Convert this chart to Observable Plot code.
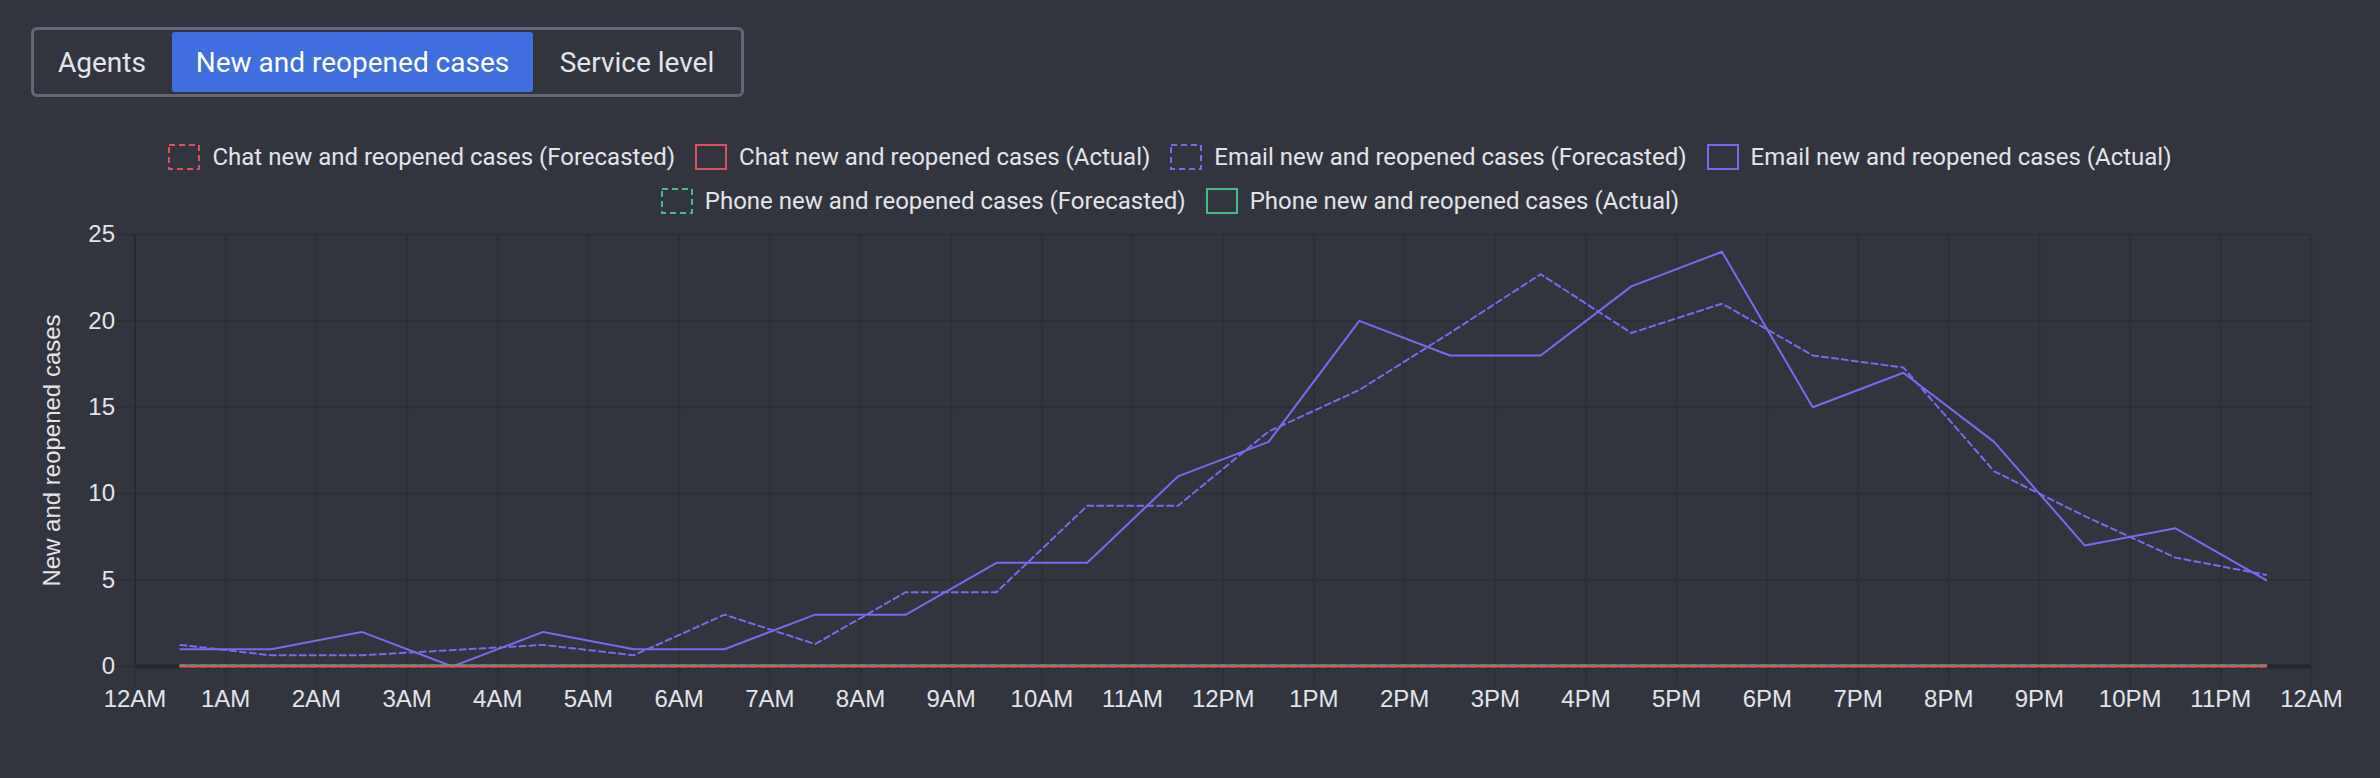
<!DOCTYPE html>
<html>
<head>
<meta charset="utf-8">
<script src="https://cdn.jsdelivr.net/npm/d3@7"></script>
<script src="https://cdn.jsdelivr.net/npm/@observablehq/plot@0.6"></script>
<style>
  body { margin: 0; background: #32353e; font-family: Roboto, sans-serif; color: #e3e4ea; width: 2380px; height: 778px; overflow: hidden; }
  .tabs { position: absolute; left: 31px; top: 27px; width: 713px; height: 70px; box-sizing: border-box; border: 3px solid #646678; border-radius: 6px; font-size: 28px; }
  .tabs span { position: absolute; top: 2px; height: 60px; line-height: 62px; text-align: center; }
  .tabs .on { background: #416edf; color: #fff; border-radius: 3px; }
  .legend { position: absolute; left: 0; top: 135px; width: 2340px; font-size: 24px; }
  .legend .row { display: flex; justify-content: center; align-items: center; height: 44px; }
  .legend .item { display: flex; align-items: center; margin: 0 10px; }
  .legend svg { margin-right: 12px; }
  #chart { position: absolute; left: 0; top: 225px; }
</style>
</head>
<body>
<div class="tabs">
  <span style="left:10px;width:116px">Agents</span>
  <span class="on" style="left:138px;width:361px">New and reopened cases</span>
  <span style="left:499px;width:208px">Service level</span>
</div>
<div class="legend" id="legend"></div>
<div id="chart"></div>
<script>
const hourLabels = ["12AM","1AM","2AM","3AM","4AM","5AM","6AM","7AM","8AM","9AM","10AM","11AM","12PM","1PM","2PM","3PM","4PM","5PM","6PM","7PM","8PM","9PM","10PM","11PM","12AM"]
const hours = [0.5,1.5,2.5,3.5,4.5,5.5,6.5,7.5,8.5,9.5,10.5,11.5,12.5,13.5,14.5,15.5,16.5,17.5,18.5,19.5,20.5,21.5,22.5,23.5]
const emailActual = [1,1,2,0,2,1,1,3,3,6,6,11,13,20,18,18,22,24,15,17,13,7,8,5]
const emailForecast = [1.25,0.65,0.65,0.95,1.25,0.65,3,1.3,4.3,4.3,9.3,9.3,13.6,16,19.3,22.7,19.3,21,18,17.3,11.3,8.7,6.3,5.3]
const zeros = [0,0,0,0,0,0,0,0,0,0,0,0,0,0,0,0,0,0,0,0,0,0,0,0]
const seriesNames = ["Chat new and reopened cases (Forecasted)","Chat new and reopened cases (Actual)","Email new and reopened cases (Forecasted)","Email new and reopened cases (Actual)","Phone new and reopened cases (Forecasted)","Phone new and reopened cases (Actual)"]
const seriesColors = ["#d9515e","#d9515e","#7b68ee","#7b68ee","#45ba82","#45ba82"]
const seriesValues = [zeros,zeros,emailForecast,emailActual,zeros,zeros]
const yTicks = [0,5,10,15,20,25]

// legend, two rows like the original
const row1 = d3.select("#legend").append("div").attr("class","row")
const row2 = d3.select("#legend").append("div").attr("class","row")
seriesNames.forEach((name, i) => {
  const item = (i < 4 ? row1 : row2).append("div").attr("class","item")
  item.append("svg").attr("width",32).attr("height",26)
    .append("rect").attr("x",1).attr("y",1).attr("width",30).attr("height",24)
    .attr("fill","none").attr("stroke",seriesColors[i]).attr("stroke-width",2)
    .attr("stroke-dasharray",i % 2 == 0 ? "6 4" : null)
  item.append("span").text(name)
})

const rows = seriesNames.flatMap((name, i) => hours.map((h, j) => ({hour: h, value: seriesValues[i][j], name, i})))
// red goes last so it sits on top at zero, the green peeks out above it
const drawOrder = [2,3,4,5,0,1]
const gridColor = "#2d2f37"

const chart = Plot.plot({
  width: 2380,
  height: 500,
  marginLeft: 134.5,
  marginRight: 69,
  marginTop: 9,
  marginBottom: 59,
  style: {background: "transparent", color: "#e3e4ea", fontFamily: "'Liberation Sans', sans-serif", fontSize: "24px"},
  x: {domain: [0,24], label: null},
  y: {domain: [0,25], label: null},
  marks: [
    Plot.gridX(d3.range(0,25), {stroke: gridColor, strokeOpacity: 1, strokeWidth: 2}),
    Plot.gridY(yTicks, {stroke: gridColor, strokeOpacity: 1, strokeWidth: 2}),
    Plot.ruleX([0], {stroke: "#262831", strokeWidth: 2}),
    Plot.ruleY([0], {stroke: "#25272e", strokeWidth: 4}),
    Plot.axisX(d3.range(0,25), {tickSize: 20, tickPadding: 3, stroke: gridColor, strokeWidth: 2, strokeOpacity: 1, tickFormat: d => hourLabels[d], fontSize: 24, fill: "#e3e4ea"}),
    Plot.axisY(yTicks, {tickSize: 20, tickPadding: 0, stroke: gridColor, strokeWidth: 2, strokeOpacity: 1, fontSize: 24, fill: "#e3e4ea"}),
    Plot.text(["New and reopened cases"], {frameAnchor: "left", textAnchor: "middle", dx: -82.5, rotate: -90, fontSize: 24, fill: "#e3e4ea"}),
    ...drawOrder.map(i => Plot.line(rows.filter(d => d.i == i), {
      x: "hour", y: "value", stroke: seriesColors[i], strokeWidth: 2,
      strokeDasharray: i % 2 == 0 ? "6 4" : null, dy: i > 3 ? -1 : 0
    }))
  ]
})
d3.select("#chart").append(() => chart)
</script>
</body>
</html>
